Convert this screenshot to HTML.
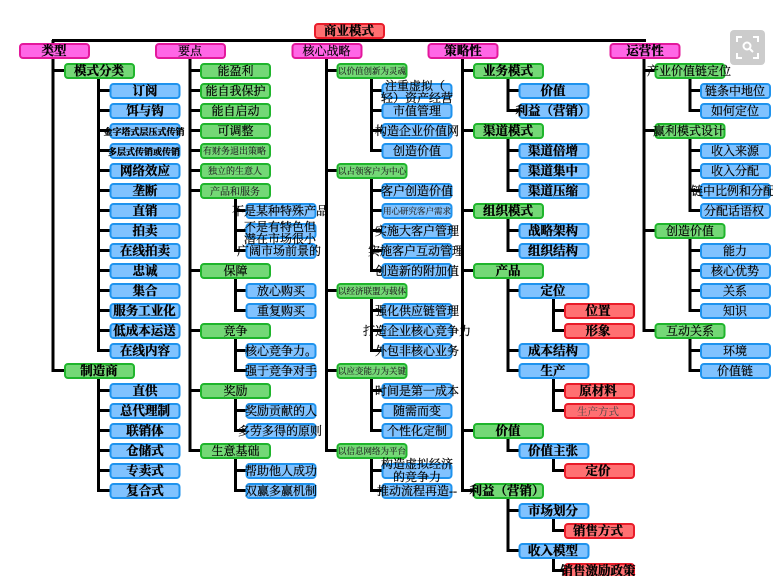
<!DOCTYPE html>
<html lang="zh"><head><meta charset="utf-8"><title>商业模式</title>
<style>
html,body{margin:0;padding:0;background:#fff;width:779px;height:585px;overflow:hidden}
svg{display:block;filter:blur(.35px)}
rect.n{width:69px;height:14px;rx:3px;ry:3px;stroke-width:2}
.p{fill:#ff66e6;stroke:#e3189c}.g{fill:#74d876;stroke:#1fb52c}.b{fill:#80c2ff;stroke:#1f93ee}.r{fill:#ff7072;stroke:#e91c2a}
path{fill:none;stroke:#000;stroke-width:3}
text{font-family:"Liberation Serif","Noto Serif CJK SC",serif;font-size:12px;text-anchor:middle;fill:#000;stroke:#000;stroke-width:.2px}
.B text,text.B{font-size:12.5px;font-weight:700;stroke:#000;stroke-width:.3px}
text.s{font-size:8.5px;fill:#222;stroke:#222;stroke-width:.12px}
</style></head><body>
<svg width="779" height="585" viewBox="0 0 779 585" xmlns="http://www.w3.org/2000/svg">
<path d="M52 40.5H646"/>
<path d="M53 40V370.5H64M53 70.5H64M98.5 78V350.5H110M98.5 90.5H110M98.5 110.5H110M98.5 130.5H110M98.5 150.5H110M98.5 170.5H110M98.5 190.5H110M98.5 210.5H110M98.5 230.5H110M98.5 250.5H110M98.5 270.5H110M98.5 290.5H110M98.5 310.5H110M98.5 330.5H110M98.5 378V490.5H110M98.5 390.5H110M98.5 410.5H110M98.5 430.5H110M98.5 450.5H110M98.5 470.5H110"/>
<path d="M190 58V450.5H200M190 70.5H200M190 90.5H200M190 110.5H200M190 130.5H200M190 150.5H200M190 170.5H200M190 190.5H200M190 270.5H200M190 330.5H200M190 390.5H200M235.5 198V250.5H246M235.5 210.5H246M235.5 230.5H246M235.5 278V310.5H246M235.5 290.5H246M235.5 338V370.5H246M235.5 350.5H246M235.5 398V430.5H246M235.5 410.5H246M235.5 458V490.5H246M235.5 470.5H246"/>
<path d="M326.5 58V450.5H337M326.5 70.5H337M326.5 170.5H337M326.5 290.5H337M326.5 370.5H337M371.5 78V150.5H382M371.5 90.5H382M371.5 110.5H382M371.5 130.5H382M371.5 178V270.5H382M371.5 190.5H382M371.5 210.5H382M371.5 230.5H382M371.5 250.5H382M371.5 298V350.5H382M371.5 310.5H382M371.5 330.5H382M371.5 378V430.5H382M371.5 390.5H382M371.5 410.5H382M371.5 458V490.5H382M371.5 470.5H382"/>
<path d="M462.5 58V490.5H473M462.5 70.5H473M462.5 130.5H473M462.5 210.5H473M462.5 270.5H473M462.5 430.5H473M508 78V110.5H519M508 90.5H519M508 138V190.5H519M508 150.5H519M508 170.5H519M508 218V250.5H519M508 230.5H519M508 278V370.5H519M508 290.5H519M508 350.5H519M508 438V450.5H519M508 498V550.5H519M508 510.5H519M553.5 298V330.5H564M553.5 310.5H564M553.5 378V410.5H564M553.5 390.5H564M553.5 458V470.5H564M553.5 518V530.5H564M553.5 558V570.5H564"/>
<path d="M644 58V330.5H655M644 70.5H655M644 130.5H655M644 230.5H655M690 78V110.5H701M690 90.5H701M690 138V210.5H701M690 150.5H701M690 170.5H701M690 190.5H701M690 238V310.5H701M690 250.5H701M690 270.5H701M690 290.5H701M690 338V370.5H701M690 350.5H701"/>

<rect class="n r" x="315" y="24"/>
<rect class="n p" x="20" y="44"/><rect class="n p" x="156" y="44"/><rect class="n p" x="292.500" y="44"/><rect class="n p" x="428.500" y="44"/><rect class="n p" x="610.500" y="44"/>

<!-- col 1 -->
<rect class="n g" x="65" y="64"/><rect class="n g" x="65" y="364"/>
<rect class="n b" x="110.500" y="84"/><rect class="n b" x="110.500" y="104"/><rect class="n b" x="110.500" y="124"/><rect class="n b" x="110.500" y="144"/><rect class="n b" x="110.500" y="164"/><rect class="n b" x="110.500" y="184"/><rect class="n b" x="110.500" y="204"/><rect class="n b" x="110.500" y="224"/><rect class="n b" x="110.500" y="244"/><rect class="n b" x="110.500" y="264"/><rect class="n b" x="110.500" y="284"/><rect class="n b" x="110.500" y="304"/><rect class="n b" x="110.500" y="324"/><rect class="n b" x="110.500" y="344"/>
<rect class="n b" x="110.500" y="384"/><rect class="n b" x="110.500" y="404"/><rect class="n b" x="110.500" y="424"/><rect class="n b" x="110.500" y="444"/><rect class="n b" x="110.500" y="464"/><rect class="n b" x="110.500" y="484"/>
<!-- col 2 -->
<rect class="n g" x="201" y="64"/><rect class="n g" x="201" y="84"/><rect class="n g" x="201" y="104"/><rect class="n g" x="201" y="124"/><rect class="n g" x="201" y="144"/><rect class="n g" x="201" y="164"/><rect class="n g" x="201" y="184"/><rect class="n g" x="201" y="264"/><rect class="n g" x="201" y="324"/><rect class="n g" x="201" y="384"/><rect class="n g" x="201" y="444"/>
<rect class="n b" x="246.500" y="204"/><rect class="n b" x="246.500" y="224"/><rect class="n b" x="246.500" y="244"/><rect class="n b" x="246.500" y="284"/><rect class="n b" x="246.500" y="304"/><rect class="n b" x="246.500" y="344"/><rect class="n b" x="246.500" y="364"/><rect class="n b" x="246.500" y="404"/><rect class="n b" x="246.500" y="424"/><rect class="n b" x="246.500" y="464"/><rect class="n b" x="246.500" y="484"/>
<!-- col 3 -->
<rect class="n g" x="337.500" y="64"/><rect class="n g" x="337.500" y="164"/><rect class="n g" x="337.500" y="284"/><rect class="n g" x="337.500" y="364"/><rect class="n g" x="337.500" y="444"/>
<rect class="n b" x="382.500" y="84"/><rect class="n b" x="382.500" y="104"/><rect class="n b" x="382.500" y="124"/><rect class="n b" x="382.500" y="144"/><rect class="n b" x="382.500" y="184"/><rect class="n b" x="382.500" y="204"/><rect class="n b" x="382.500" y="224"/><rect class="n b" x="382.500" y="244"/><rect class="n b" x="382.500" y="264"/><rect class="n b" x="382.500" y="304"/><rect class="n b" x="382.500" y="324"/><rect class="n b" x="382.500" y="344"/><rect class="n b" x="382.500" y="384"/><rect class="n b" x="382.500" y="404"/><rect class="n b" x="382.500" y="424"/><rect class="n b" x="382.500" y="464"/><rect class="n b" x="382.500" y="484"/>
<!-- col 4 -->
<rect class="n g" x="474" y="64"/><rect class="n g" x="474" y="124"/><rect class="n g" x="474" y="204"/><rect class="n g" x="474" y="264"/><rect class="n g" x="474" y="424"/><rect class="n g" x="474" y="484"/>
<rect class="n b" x="519.500" y="84"/><rect class="n b" x="519.500" y="104"/><rect class="n b" x="519.500" y="144"/><rect class="n b" x="519.500" y="164"/><rect class="n b" x="519.500" y="184"/><rect class="n b" x="519.500" y="224"/><rect class="n b" x="519.500" y="244"/><rect class="n b" x="519.500" y="284"/><rect class="n b" x="519.500" y="344"/><rect class="n b" x="519.500" y="364"/><rect class="n b" x="519.500" y="444"/><rect class="n b" x="519.500" y="504"/><rect class="n b" x="519.500" y="544"/>
<rect class="n r" x="565" y="304"/><rect class="n r" x="565" y="324"/><rect class="n r" x="565" y="384"/><rect class="n r" x="565" y="404"/><rect class="n r" x="565" y="464"/><rect class="n r" x="565" y="524"/><rect class="n r" x="565" y="564"/>
<!-- col 5 -->
<rect class="n g" x="655.500" y="64"/><rect class="n g" x="655.500" y="124"/><rect class="n g" x="655.500" y="224"/><rect class="n g" x="655.500" y="324"/>
<rect class="n b" x="701" y="84"/><rect class="n b" x="701" y="104"/><rect class="n b" x="701" y="144"/><rect class="n b" x="701" y="164"/><rect class="n b" x="701" y="184"/><rect class="n b" x="701" y="204"/><rect class="n b" x="701" y="244"/><rect class="n b" x="701" y="264"/><rect class="n b" x="701" y="284"/><rect class="n b" x="701" y="304"/><rect class="n b" x="701" y="344"/><rect class="n b" x="701" y="364"/>

<text class="B" x="349" y="35">商业模式</text>
<text class="B" x="54" y="55">类型</text><text x="190" y="55">要点</text><text x="326.500" y="55">核心战略</text><text class="B" x="463" y="55">策略性</text><text class="B" x="645" y="55">运营性</text>

<g class="B">
<text x="99" y="75">模式分类</text><text x="99" y="375">制造商</text>
<text x="145" y="95">订阅</text><text x="145" y="115">饵与钩</text>
<text x="144" y="135" style="font-size:9px">金字塔式层压式传销</text>
<text x="144" y="155" style="font-size:9px">多层式传销或传销</text>
<text x="145" y="175">网络效应</text><text x="145" y="195">垄断</text><text x="145" y="215">直销</text><text x="145" y="235">拍卖</text><text x="145" y="255">在线拍卖</text><text x="145" y="275">忠诚</text><text x="145" y="295">集合</text><text x="144.500" y="315">服务工业化</text><text x="144.500" y="335">低成本运送</text><text x="145" y="355">在线内容</text>
<text x="145" y="395">直供</text><text x="145" y="415">总代理制</text><text x="145" y="435">联销体</text><text x="145" y="455">仓储式</text><text x="145" y="475">专卖式</text><text x="145" y="495">复合式</text>
<text x="508" y="75">业务模式</text><text x="508" y="135">渠道模式</text><text x="508" y="215">组织模式</text><text x="508" y="275">产品</text><text x="508" y="435">价值</text><text x="507" y="495">利益（营销）</text>
<text x="553" y="95">价值</text><text x="553" y="115">利益（营销）</text><text x="553" y="155">渠道倍增</text><text x="553" y="175">渠道集中</text><text x="553" y="195">渠道压缩</text><text x="553" y="235">战略架构</text><text x="553" y="255">组织结构</text><text x="553" y="295">定位</text><text x="553" y="355">成本结构</text><text x="553" y="375">生产</text><text x="553" y="455">价值主张</text><text x="553" y="515">市场划分</text><text x="553" y="555">收入模型</text>
<text x="598" y="315">位置</text><text x="598" y="335">形象</text><text x="598" y="395">原材料</text><text x="598" y="475">定价</text><text x="598" y="535">销售方式</text><text x="598" y="575">销售激励政策</text>
</g>
<text x="598" y="415" style="font-size:10.500px;fill:#444;stroke:none">生产方式</text>

<text x="235.500" y="75">能盈利</text><text x="235.500" y="95">能自我保护</text><text x="235.500" y="115">能自启动</text><text x="235.500" y="135">可调整</text>
<text class="s" x="234.500" y="154" style="font-size:9px">有财务退出策略</text><text class="s" x="235" y="174" style="font-size:9px">独立的生意人</text><text class="s" x="235" y="195" style="font-size:10px">产品和服务</text>
<text x="235.500" y="275">保障</text><text x="235.500" y="335">竞争</text><text x="235.500" y="395">奖励</text><text x="235.500" y="455">生意基础</text>
<text x="280" y="215">不是某种特殊产品</text><text x="280" y="231">不是有特色但</text><text x="280" y="243">潜在市场很小</text><text x="279" y="255">广阔市场前景的</text>
<text x="281" y="295">放心购买</text><text x="281" y="315">重复购买</text><text x="281" y="355">核心竞争力。</text><text x="281" y="375">强于竞争对手</text><text x="281" y="415">奖励贡献的人</text><text x="280" y="435">多劳多得的原则</text><text x="281" y="475">帮助他人成功</text><text x="281" y="495">双赢多赢机制</text>

<text class="s" x="372" y="74">以价值创新为灵魂</text><text class="s" x="372" y="174">以占领客户为中心</text><text class="s" x="372" y="294">以经济联盟为载体</text><text class="s" x="372" y="374">以应变能力为关键</text><text class="s" x="372" y="454">以信息网络为平台</text>
<text x="415" y="90">注重虚拟（</text><text x="417" y="102">轻）资产经营</text><text x="417" y="115">市值管理</text><text x="417" y="135">构造企业价值网</text><text x="417" y="155">创造价值</text>
<text x="417" y="195">客户创造价值</text><text class="s" x="417" y="214">用心研究客户需求</text><text x="417" y="235">实施大客户管理</text><text x="416" y="255">实施客户互动管理</text><text x="417" y="275">创造新的附加值</text>
<text x="417" y="315">强化供应链管理</text><text x="417" y="335">打造企业核心竞争力</text><text x="417" y="355">外包非核心业务</text>
<text x="417" y="395">时间是第一成本</text><text x="417" y="415">随需而变</text><text x="417" y="435">个性化定制</text>
<text x="417" y="468">构造虚拟经济</text><text x="417" y="481">的竞争力</text><text x="417" y="495">推动流程再造--</text>

<text x="689" y="75">产业价值链定位</text><text x="689" y="135">赢利模式设计</text><text x="690" y="235">创造价值</text><text x="690" y="335">互动关系</text>
<text x="735" y="95">链条中地位</text><text x="735" y="115">如何定位</text><text x="735" y="155">收入来源</text><text x="735" y="175">收入分配</text><text x="733" y="195">链中比例和分配</text><text x="734" y="215">分配话语权</text><text x="735" y="255">能力</text><text x="735" y="275">核心优势</text><text x="735" y="295">关系</text><text x="735" y="315">知识</text><text x="735" y="355">环境</text><text x="735" y="375">价值链</text>

<rect x="0" y="576" width="779" height="9" fill="#fff"/>
<rect x="773" y="180" width="6" height="30" fill="#fff"/>
<rect x="730" y="30" width="35" height="35" rx="4" fill="#ccc"/>
<path style="stroke:#fff;stroke-width:2" d="M737 42V37H742M753 37H758V42M758 53V58H753M742 58H737V53"/>
<circle cx="747" cy="46" r="3.500" fill="none" stroke="#fff" stroke-width="2"/>
<path style="stroke:#fff;stroke-width:2" d="M750 49L753 52"/>
</svg>
</body></html>
